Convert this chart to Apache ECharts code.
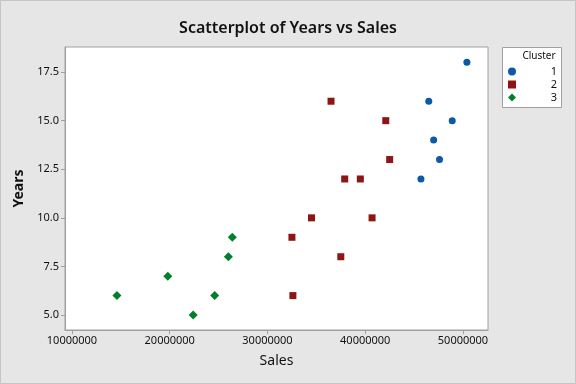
<!DOCTYPE html>
<html><head><meta charset="utf-8">
<script src="https://cdn.jsdelivr.net/npm/echarts@6/dist/echarts.min.js"></script>
<style>html,body{margin:0;padding:0;background:#e6e6e6;}#c{width:576px;height:384px;}</style>
</head><body><div id="c"></div>
<script>
// Cluster 1 (Sales, Years)
const cluster1Sales = [50400000, 46500000, 48900000, 47000000, 47600000, 45700000];
const cluster1Years = [18, 16, 15, 14, 13, 12];
// Cluster 2
const cluster2Sales = [36500000, 42100000, 42500000, 37900000, 39500000, 34500000, 40700000, 32500000, 37500000, 32600000];
const cluster2Years = [16, 15, 13, 12, 12, 10, 10, 9, 8, 6];
// Cluster 3
const cluster3Sales = [26400000, 26000000, 19800000, 24600000, 22400000, 14600000];
const cluster3Years = [9, 8, 7, 6, 5, 6];
const xTicks = [10000000, 20000000, 30000000, 40000000, 50000000];
const yTicks = [5, 7.5, 10, 12.5, 15, 17.5];
const clusterNames = ['1', '2', '3'];

const zip = (a, b) => a.map((v, i) => [v, b[i]]);
const font = 'Noto Sans, DejaVu Sans, sans-serif';
const chart = echarts.init(document.getElementById('c'));
chart.setOption({
  backgroundColor: '#e6e6e6',
  animation: false,
  title: {
    text: 'Scatterplot of Years vs Sales', left: 'center', top: 15,
    textStyle: {fontFamily: font, fontSize: 16, fontWeight: 600, color: '#111'}
  },
  grid: {left: 65, right: 88, top: 47, bottom: 54, show: true, backgroundColor: '#ffffff', borderColor: '#a0a0a0', borderWidth: 1},
  xAxis: {
    type: 'value', min: 9284000, max: 52560000,
    name: 'Sales', nameLocation: 'middle', nameGap: 24,
    nameTextStyle: {fontFamily: font, fontSize: 14, color: '#111'},
    axisLine: {show: true, lineStyle: {color: '#a0a0a0'}},
    axisTick: {show: true, length: 4, customValues: xTicks, lineStyle: {color: '#a0a0a0'}},
    axisLabel: {customValues: xTicks, margin: 5, fontFamily: font, fontSize: 11, color: '#111', formatter: v => String(Math.round(v))},
    splitLine: {show: false}
  },
  yAxis: {
    type: 'value', min: 4.23, max: 18.79,
    name: 'Years', nameLocation: 'middle', nameGap: 34,
    nameTextStyle: {fontFamily: font, fontSize: 14, fontWeight: 'bold', color: '#111'},
    axisLine: {show: true, lineStyle: {color: '#a0a0a0'}},
    axisTick: {show: true, length: 4, customValues: yTicks, lineStyle: {color: '#a0a0a0'}},
    axisLabel: {customValues: yTicks, margin: 6, fontFamily: font, fontSize: 11, color: '#111', formatter: v => v.toFixed(1)},
    splitLine: {show: false}
  },
  legend: {
    orient: 'vertical', left: 508, top: 66, itemWidth: 8, itemHeight: 8, itemGap: 2, padding: 0,
    data: clusterNames,
    formatter: '{a|{name}}',
    textStyle: {fontFamily: font, fontSize: 11, color: '#111', lineHeight: 9, rich: {a: {width: 36, height: 9, lineHeight: 9, align: 'right', fontFamily: font, fontSize: 11}}}
  },
  graphic: [
    {type: 'rect', z: -1, shape: {x: 0.5, y: 0.5, width: 575, height: 383}, style: {fill: 'none', stroke: '#c4c4c4', lineWidth: 1}},
    {type: 'rect', z: 0, shape: {x: 502.5, y: 47.5, width: 59, height: 60}, style: {fill: '#ffffff', stroke: '#a0a0a0', lineWidth: 1}},
    {type: 'text', z: 1, x: 539, y: 56, style: {text: 'Cluster', fontFamily: font, fontSize: 10, fill: '#111', align: 'center', verticalAlign: 'middle'}}
  ],
  series: [
    {name: clusterNames[0], type: 'scatter', symbol: 'circle', symbolSize: 7, itemStyle: {color: '#0a5aa8', opacity: 1}, data: zip(cluster1Sales, cluster1Years)},
    {name: clusterNames[1], type: 'scatter', symbol: 'rect', symbolSize: 7, itemStyle: {color: '#8f1515', opacity: 1}, data: zip(cluster2Sales, cluster2Years)},
    {name: clusterNames[2], type: 'scatter', symbol: 'diamond', symbolSize: 9, itemStyle: {color: '#00802b', opacity: 1}, data: zip(cluster3Sales, cluster3Years)}
  ]
});
</script></body></html>
